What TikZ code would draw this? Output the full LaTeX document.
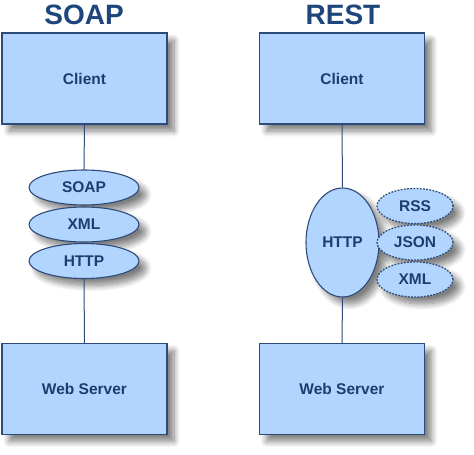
\documentclass[tikz,border=0pt]{standalone}
\usepackage{fontspec}
\setmainfont{Liberation Sans}
\usetikzlibrary{shapes.geometric,shadows.blur}
\definecolor{boxfill}{RGB}{178,213,255}
\definecolor{boxline}{RGB}{45,75,120}
\definecolor{txt}{RGB}{28,62,110}
\definecolor{ttl}{RGB}{30,70,125}
\tikzset{
  shad/.style={blur shadow={shadow xshift=7pt,shadow yshift=-7pt,shadow blur steps=10,shadow opacity=50,shadow blur radius=6pt}},
  boxnode/.style={rectangle,draw=boxline,line width=1.2pt,fill=boxfill,shad,minimum width=165pt,minimum height=91pt,inner sep=0pt,text=txt,font=\fontsize{15.5}{17}\selectfont\bfseries},
  ell/.style={ellipse,draw=boxline,line width=1.1pt,fill=boxfill,shad,inner sep=0pt,text=txt,font=\fontsize{15.5}{17}\selectfont\bfseries},
  dell/.style={ell,dash pattern=on 1.8pt off 1.4pt,line width=1.3pt},
  conn/.style={draw=boxline,line width=1pt},
  ttlnode/.style={text=ttl,font=\fontsize{28}{30}\selectfont\bfseries,inner sep=0pt}
}
\begin{document}
\begin{tikzpicture}[x=1pt,y=-1pt]
\useasboundingbox (0,0) rectangle (474,455);
% titles
\node[ttlnode] (t1) at (84,15) {SOAP};
\node[ttlnode] (t2) at (343,15) {REST};
% SOAP side
\node[boxnode] (c1) at (84.5,78.5) {Client};
\node[boxnode] (s1) at (84.5,389) {Web Server};
\node[ell,minimum width=110pt,minimum height=35pt] (e1) at (84,187.5) {SOAP};
\node[ell,minimum width=110pt,minimum height=35pt] (e2) at (84,224.5) {XML};
\node[ell,minimum width=110pt,minimum height=35pt] (e3) at (84,261) {HTTP};
\draw[conn] (c1.south) -- (e1.north);
\draw[conn] (e3.south) -- (s1.north);
% REST side
\node[boxnode] (c2) at (342,78.5) {Client};
\node[boxnode] (s2) at (342,389) {Web Server};
\node[ell,minimum width=73pt,minimum height=109pt] (h) at (342.5,242.5) {HTTP};
\node[dell,minimum width=76pt,minimum height=35pt] (r1) at (415,206) {RSS};
\node[dell,minimum width=76pt,minimum height=35pt] (r2) at (415,242.5) {JSON};
\node[dell,minimum width=76pt,minimum height=35pt] (r3) at (415,279.5) {XML};
\draw[conn] (c2.south) -- (h.north);
\draw[conn] (h.south) -- (s2.north);
\end{tikzpicture}
\end{document}
